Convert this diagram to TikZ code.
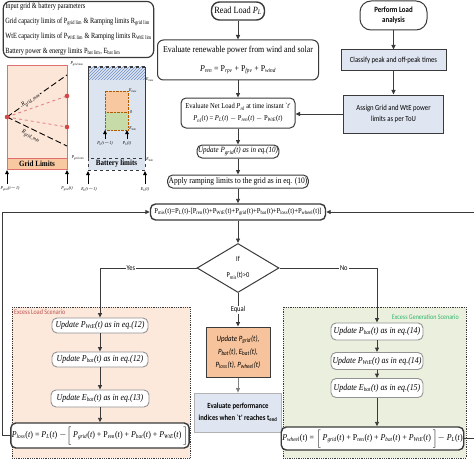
\documentclass[tikz,border=0pt]{standalone}
\usepackage{fontspec}
\setmainfont{Liberation Serif}
\newfontfamily\serifc[FakeStretch=0.88]{Liberation Serif}
\newfontfamily\serifn[FakeStretch=0.8]{Liberation Serif}
\newfontfamily\sansc[FakeStretch=0.86]{Carlito}
\usetikzlibrary{arrows.meta,shapes.geometric,patterns}
\definecolor{linegray}{HTML}{3A3A3A}
\definecolor{gridfill}{HTML}{FCE6D8}
\definecolor{gridred}{HTML}{E07070}
\definecolor{griddot}{HTML}{D04848}
\definecolor{bandorange}{HTML}{F8C8A0}
\definecolor{orangebox}{HTML}{F6C39C}
\definecolor{lightblue}{HTML}{DFE6F1}
\definecolor{battblue}{HTML}{DCE4F0}
\definecolor{hatchblue}{HTML}{6F8FC8}
\definecolor{battgreen}{HTML}{C6DBA8}
\definecolor{loadfill}{HTML}{FCE9DC}
\definecolor{genfill}{HTML}{EBF0DE}
\definecolor{gentext}{HTML}{2DB46B}
\definecolor{loadtext}{HTML}{C0504D}
\newcommand\V[2]{\textit{#1}\textsubscript{\textit{#2}}}
\newcommand\U[2]{#1\textsubscript{#2}}
\newcommand\fsz[2]{\fontsize{#1}{#2}\selectfont}
\begin{document}
\begin{tikzpicture}[x=1pt,y=-1pt,
    flow/.style={draw=linegray, line width=0.9pt, -{Triangle[length=4.5pt,width=4pt]}},
    roundbox/.style={draw=linegray, line width=1pt, rounded corners=5pt, fill=white, align=center, inner sep=1pt, font=\serifc\fsz{8.5}{10}},
    thickbox/.style={roundbox, line width=1.4pt},
    updbox/.style={roundbox, draw=gray!85, line width=0.9pt, font=\serifc\fsz{9}{10}\itshape},
    bluebox/.style={draw=linegray, line width=1pt, fill=lightblue, align=center, inner sep=1pt, font=\sansc\fsz{7.8}{11}},
    region/.style={draw=linegray, densely dotted, line width=0.8pt},
    tinylbl/.style={font=\serifc\fsz{4.5}{5}\itshape, inner sep=0.5pt},
    panelarrow/.style={line width=1pt, -{Triangle[length=4pt,width=3.5pt]}},
    branchlbl/.style={fill=white, inner sep=1pt, font=\sansc\fsz{7.5}{8}}
  ]
  \useasboundingbox (0,0) rectangle (474,460);
  \fill[white] (0,0) rectangle (474,460);

  % Parameter box
  \node[draw=linegray, line width=1.2pt, rounded corners=7pt, minimum width=147pt, minimum height=55pt,
    align=left, inner sep=2pt, font=\serifn\fsz{7.9}{15}] (params) at (78.5,29.5)
    {Input grid \& battery parameters\\
     Grid capacity limits of \U{P}{grid lim} \& Ramping limits \U{R}{grid lim}\\
     WtE capacity limits of \U{P}{WtE lim} \& Ramping limits \U{R}{WtE lim}\\
     Battery power \& energy limits \U{P}{bat lim}, \U{E}{bat lim}};

  % Grid limits panel
  \fill[gridfill] (7,65) rectangle (67,169);
  \node[draw=gridred, fill=bandorange, line width=0.8pt, minimum width=60pt, minimum height=11pt, inner sep=0pt,
    font=\serifc\fsz{8}{9}\bfseries] (gridband) at (37,163.5) {Grid Limits};
  \draw[gridred, line width=0.8pt] (7,65) rectangle (67,169);
  \coordinate (gridorigin) at (7,117);
  \draw[gridred!85, dashed, line width=0.9pt] (gridorigin) -- (67,96);
  \draw[gridred!85, dashed, line width=0.9pt] (gridorigin) -- (67,127);
  \draw[black, dash pattern=on 6pt off 3pt, line width=0.9pt] (gridorigin) --
    node[sloped, pos=0.4, fill=gridfill, inner sep=0.5pt, font=\serifc\fsz{6}{6}\itshape] (rmaxlbl) {\V{R}{grid\_max}} (67,75);
  \draw[black, dash pattern=on 6pt off 3pt, line width=0.9pt] (gridorigin) --
    node[sloped, pos=0.45, below=3pt, fill=gridfill, inner sep=0.5pt, font=\serifc\fsz{6}{6}\itshape] (rminlbl) {\V{R}{grid\_min}} (67,146);
  \fill[griddot] (gridorigin) circle (2.3pt);
  \fill[griddot] (67,96) circle (2.3pt);
  \fill[griddot] (67,127) circle (2.3pt);
  \node[tinylbl] (gridmaxlbl) at (77,64) {\V{P}{grid max}};
  \node[tinylbl] (gridminlbl) at (78,158) {\V{P}{grid min}};
  \draw[panelarrow] (7,184) -- (7,170);
  \draw[panelarrow] (67,184) -- (67,170);
  \node[tinylbl] (gridprev) at (10,189) {\V{P}{grid}(\textit{t}$-$1)};
  \node[tinylbl] (gridnow) at (67,189) {\V{P}{grid}(\textit{t})};

  % Battery limits panel
  \fill[battblue] (88,67) rectangle (145,170);
  \fill[pattern=north east lines, pattern color=hatchblue] (88,67) rectangle (145,80);
  \draw[linegray, line width=1pt] (88,67) -- (88,158) (145,67) -- (145,158);
  \draw[linegray, dashed, line width=1.2pt] (88,67) -- (145,67);
  \node[draw=linegray, dashed, line width=1pt, fill=battblue, minimum width=57pt, minimum height=12pt, inner sep=0pt,
    font=\serifc\fsz{8}{9}\bfseries] (battband) at (116.5,164) {Battery limits};
  \filldraw[draw=orange!70!black, densely dotted, fill=bandorange] (105,91) rectangle (128,112);
  \filldraw[draw=orange!70!black, densely dotted, fill=battgreen] (105,112) rectangle (128,130);
  \node[tinylbl] (socmax) at (133,91) {\V{E}{max}};
  \node[tinylbl] (soczero) at (131,112) {0};
  \node[tinylbl] (socmin) at (133,129) {\V{E}{min}};
  \draw[panelarrow] (105,139) -- (105,130);
  \draw[panelarrow] (127,139) -- (127,130);
  \node[tinylbl] (battinprev) at (105,143) {\V{P}{b}(\textit{t}$-$1)};
  \node[tinylbl] (battinnow) at (127,143) {\V{P}{b}(\textit{t})};
  \node[tinylbl] (battmax) at (150,80) {\V{E}{max}};
  \node[tinylbl] (battmin) at (150,160) {\V{E}{min}};
  \draw[panelarrow] (88,184) -- (88,171);
  \draw[panelarrow] (145,184) -- (145,171);
  \node[tinylbl] (battprev) at (89,189) {\V{E}{b}(\textit{t}$-$1)};
  \node[tinylbl] (battnow) at (145,189) {\V{E}{b}(\textit{t})};

  % Scenario regions
  \filldraw[region, fill=loadfill] (12,307) rectangle (190,458);
  \node[anchor=north west, inner sep=1pt, text=loadtext, font=\sansc\fsz{7}{8}] (loadtitle) at (13,308) {Excess Load Scenario};
  \filldraw[region, fill=genfill] (283,307) rectangle (466,458);
  \node[anchor=east, inner sep=1pt, text=gentext, font=\sansc\fsz{7}{8}] (gentitle) at (460,317) {Excess Generation Scenario};

  % Main flow
  \node[thickbox, rounded corners=8pt, minimum width=53pt, minimum height=18pt, font=\serifc\fsz{9.5}{10}] (readload) at (238,11) {Read Load \V{P}{L}};
  \node[roundbox, rounded corners=6pt, minimum width=161pt, minimum height=40pt, font=\serifc\fsz{9}{19}] (renew) at (238,60)
    {Evaluate renewable power from wind and solar\\ \V{P}{ren} = \U{P}{\textit{rpv}} + \U{P}{\textit{fpv}} + \U{P}{\textit{wind}}};
  \node[roundbox, minimum width=114pt, minimum height=30pt, font=\serifc\fsz{7.5}{12}] (netload) at (238,113)
    {Evaluate Net Load \V{P}{nl} at time instant `\textit{t}'\\ \V{P}{nl}(\textit{t}) = \V{P}{L}(\textit{t}) $-$ \U{P}{\textit{ren}}(\textit{t}) $-$ \U{P}{\textit{WtE}}(\textit{t})};
  \node[roundbox, minimum width=78pt, minimum height=13pt, font=\serifc\fsz{8}{9}\itshape] (updgrid) at (238,151.5) {Update \V{P}{grid}(\textit{t}) as in eq.(10)};
  \node[roundbox, minimum width=135pt, minimum height=13pt] (ramp) at (238,181.5) {Apply ramping limits to the grid as in eq. (10)};
  \node[thickbox, minimum width=175pt, minimum height=16pt, font=\serifc\fsz{7.5}{9}] (mis) at (238,212)
    {\U{P}{mis}(t)=\U{P}{L}(t)-[\U{P}{ren}(t)+\U{P}{WtE}(t)+\U{P}{grid}(t)+\U{P}{bat}(t)+\U{P}{loss}(t)+\U{P}{wheel}(t)]};
  \node[draw=linegray, line width=1pt, shape=diamond, aspect=1.67, minimum width=82pt, minimum height=49pt, inner sep=0pt,
    align=center, font=\sansc\fsz{7.5}{16}] (decision) at (238,268) {If\\ \U{P}{mis}(t)>0};
  \node[draw=linegray, line width=1pt, fill=orangebox, minimum width=64pt, minimum height=50pt, inner sep=1pt,
    align=center, font=\sansc\fsz{8}{13}\itshape] (eqbox) at (238,352)
    {Update \V{P}{grid}(\textit{t}),\\ \V{P}{bat}(\textit{t}), \V{E}{bat}(\textit{t}),\\ \V{P}{loss}(\textit{t}), \V{P}{wheel}(\textit{t})};
  \node[draw=gray!60, line width=0.8pt, fill=lightblue, minimum width=87pt, minimum height=39pt, inner sep=1pt,
    align=center, font=\sansc\fsz{7.8}{12}\bfseries] (perf) at (238,412.5)
    {Evaluate performance\\ indices when `t' reaches t\textsubscript{end}};

  % Excess load branch
  \node[updbox, minimum width=96pt, minimum height=15pt] (ldwte) at (100,325.5) {Update \V{P}{WtE}(\textit{t}) as in eq.(12)};
  \node[updbox, minimum width=96pt, minimum height=15pt] (ldbat) at (100,359.5) {Update \V{P}{bat}(\textit{t}) as in eq.(12)};
  \node[updbox, minimum width=98pt, minimum height=17pt] (ldebat) at (100,398.5) {Update \V{E}{bat}(\textit{t}) as in eq.(13)};
  \node[thickbox, minimum width=174pt, minimum height=25pt, font=\serifc\fsz{9}{10}] (ldloss) at (100,435.5)
    {\V{P}{loss}(\textit{t}) = \V{P}{L}(\textit{t}) $-\Big[$ \V{P}{grid}(\textit{t}) + \U{P}{ren}(\textit{t}) + \V{P}{bat}(\textit{t}) + \V{P}{WtE}(\textit{t}) $\Big]$};

  % Excess generation branch
  \node[updbox, minimum width=92pt, minimum height=17pt] (genbat) at (377,331.5) {Update \V{P}{bat}(\textit{t}) as in eq.(14)};
  \node[updbox, minimum width=92pt, minimum height=17pt] (genwte) at (377,361) {Update \V{P}{WtE}(\textit{t}) as in eq.(14)};
  \node[updbox, minimum width=92pt, minimum height=19pt] (genebat) at (377,388) {Update \V{E}{bat}(\textit{t}) as in eq.(15)};
  \node[thickbox, minimum width=175pt, minimum height=23pt, font=\serifc\fsz{9}{10}] (genwheel) at (372.5,438.5)
    {\V{P}{wheel}(\textit{t}) = $\Big[$ \V{P}{grid}(\textit{t}) + \U{P}{ren}(\textit{t}) + \V{P}{bat}(\textit{t}) + \V{P}{WtE}(\textit{t}) $\Big]-$ \V{P}{L}(\textit{t})};

  % Load analysis column
  \node[draw=linegray, line width=1pt, rounded corners=11pt, fill=white, minimum width=67pt, minimum height=29pt, inner sep=1pt,
    align=center, font=\sansc\fsz{8}{10}\bfseries] (perform) at (393.5,15.5) {Perform Load\\ analysis};
  \node[bluebox, minimum width=105pt, minimum height=21pt] (classify) at (393.5,60.5) {Classify peak and off-peak times};
  \node[bluebox, minimum width=100pt, minimum height=38pt] (assign) at (393.5,114) {Assign Grid and WtE power\\ limits as per ToU};

  % Connectors
  \draw[flow] (readload) -- (renew);
  \draw[flow] (renew) -- (netload);
  \draw[flow] (netload) -- (updgrid);
  \draw[flow] (updgrid) -- (ramp);
  \draw[flow] (ramp) -- (mis);
  \draw[flow] (mis) -- (decision);
  \draw[flow] (decision.west) -| node[branchlbl, pos=0.34] {Yes} (ldwte.north);
  \draw[flow] (decision.east) -| node[branchlbl, pos=0.33] {No} (genbat.north);
  \draw[flow] (decision.south) -- node[branchlbl, pos=0.5] {Equal} (eqbox.north);
  \draw[flow, draw=gray] (eqbox) -- (perf);
  \draw[flow] (ldwte) -- (ldbat);
  \draw[flow] (ldbat) -- (ldebat);
  \draw[flow] (ldebat) -- (ldloss);
  \draw[flow] (genbat) -- (genwte);
  \draw[flow] (genwte) -- (genebat);
  \draw[flow] (genebat.south) -- (genebat.south |- genwheel.north);
  \draw[flow] (ldloss.west) -- ++(-8,0) |- (mis.west);
  \draw[flow] (genwheel.east) -- ++(12,0) |- (mis.east);
  \draw[flow] (perform) -- (classify);
  \draw[flow] (classify) -- (assign);
  \draw[flow] (assign.west) -- (assign.west -| netload.east);
\end{tikzpicture}
\end{document}
